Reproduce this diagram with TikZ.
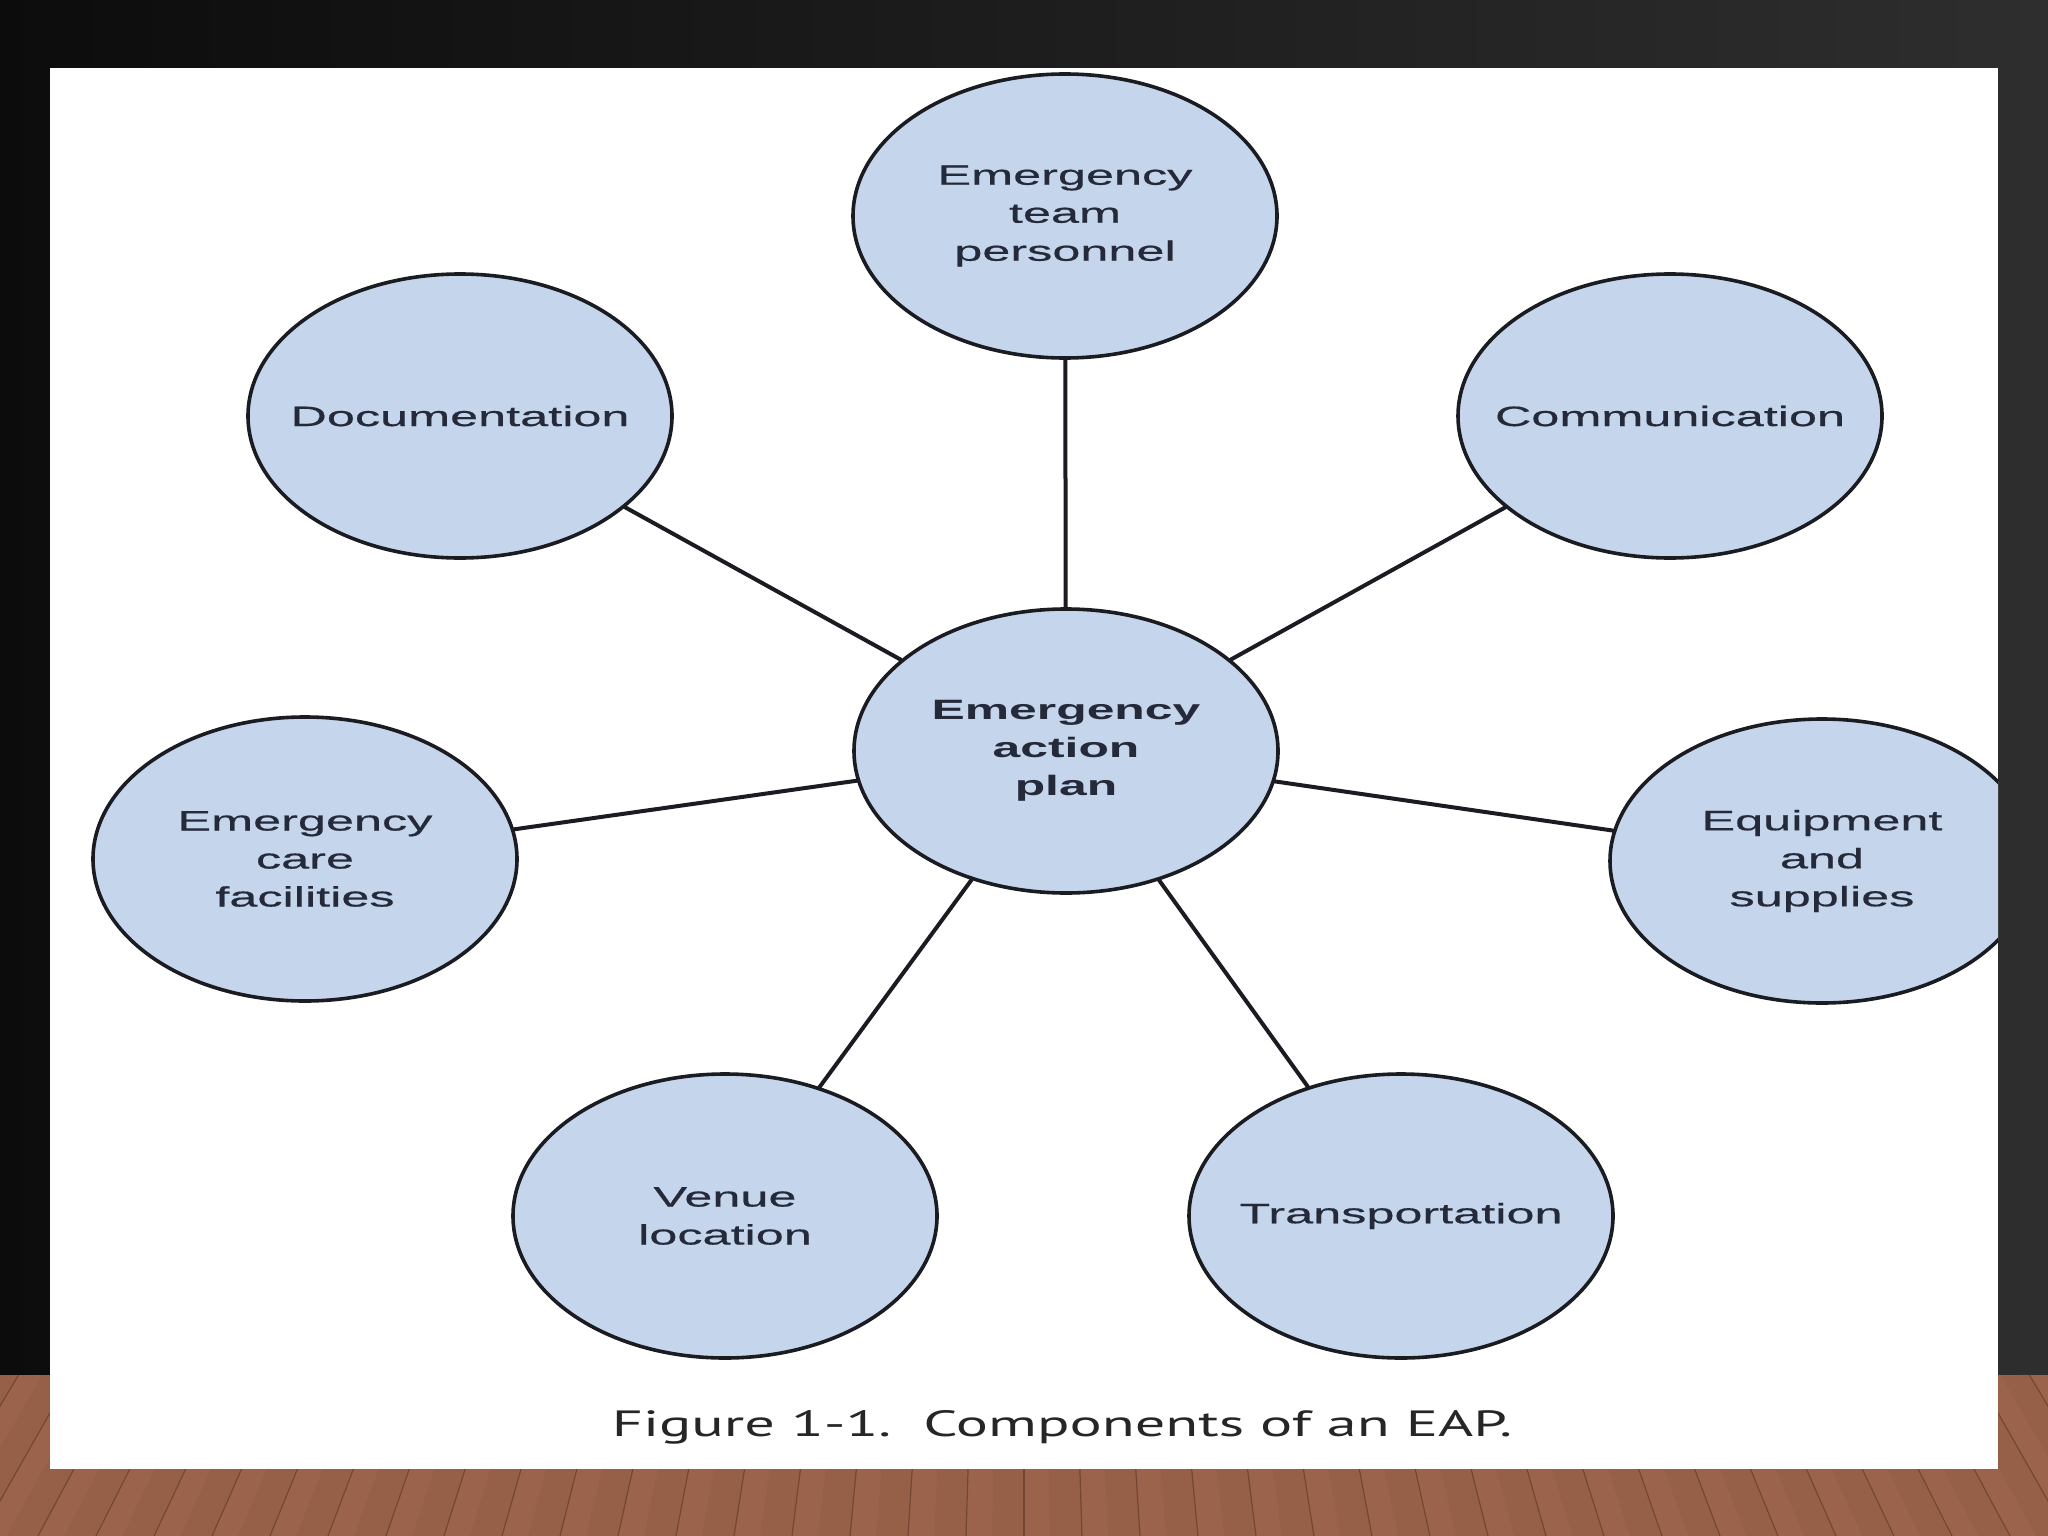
\documentclass[tikz,border=0pt]{standalone}
\usepackage{fontspec}
\usepackage{graphicx}
\usetikzlibrary{shapes.geometric}
\newfontfamily\circfont{Liberation Sans}[FakeStretch=1.8,FakeBold=0.5]
\newfontfamily\hubfont{Liberation Sans Bold}[FakeStretch=1.78]
\newfontfamily\capfont{PT Sans}

\begin{document}
\begin{tikzpicture}
		[x=1pt,y=-1pt,line cap=round,
		%Styles
		blob/.style={ellipse,draw=edgecolor,fill=bubblecolor,line width=3.6pt,
			minimum width=424pt,minimum height=284pt,inner sep=0pt},
		words/.style={font=\circfont\fontsize{28}{38}\selectfont,text=wordcolor,align=center},
		hubwords/.style={font=\hubfont\fontsize{28}{38}\selectfont,text=wordcolor,align=center},
		bubble/.style={blob,label={[words]center:#1}},
		hub/.style={blob,label={[hubwords]center:#1}},
		link/.style={draw=edgecolor,line width=4pt},
		plank/.style={draw=plankline,line width=1.2pt,opacity=.7}
		]
		
		%Colors
		\definecolor{bubblecolor}{RGB}{197,213,236}
		\definecolor{edgecolor}{RGB}{26,28,34}
		\definecolor{wordcolor}{RGB}{36,42,58}
		\definecolor{captioncolor}{RGB}{38,38,38}
		\definecolor{wood}{RGB}{150,95,72}
		\definecolor{woodlight}{RGB}{164,106,82}
		\definecolor{plankline}{RGB}{100,60,42}
		\definecolor{backleft}{RGB}{12,12,12}
		\definecolor{backright}{RGB}{46,46,46}
		
		%The graphic
		\useasboundingbox (0,0) rectangle (2048,1536);
		\shade[left color=backleft,right color=backright] (0,0) rectangle (2048,1375);
		
		\begin{scope}
			\clip (0,1375) rectangle (2048,1536);
			\fill[wood] (0,1375) rectangle (2048,1536);
			\foreach \k in {-20,...,20}
				\fill[woodlight,opacity=.45] (1024,-300) -- (1024+58*\k,1536) -- (1024+58*\k+26,1536) -- cycle;
			\foreach \k in {-20,...,20}
				\draw[plank] (1024,-300) -- (1024+58*\k,1536);
		\end{scope}
		
		\fill[white] (50,68) rectangle (1998,1469);
		
		\begin{scope}
			\clip (50,68) rectangle (1998,1469);
			
			\node[bubble={Emergency\\team\\personnel}] (team) at (1065,216) {};
			\node[bubble={Documentation}] (doc) at (460,416) {};
			\node[bubble={Communication}] (comm) at (1670,416) {};
			\node[hub={Emergency\\action\\plan}] (eap) at (1066,751) {};
			\node[bubble={Emergency\\care\\facilities}] (care) at (305,859) {};
			\node[bubble={Equipment\\and\\supplies}] (equip) at (1822,861) {};
			\node[bubble={Venue\\location}] (venue) at (725,1216) {};
			\node[bubble={Transportation}] (trans) at (1401,1216) {};
			
			\foreach \spoke in {team,doc,comm,care,equip,venue,trans}
				\draw[link] (eap) -- (\spoke);
		\end{scope}
		
		\node[anchor=base,text=captioncolor] (caption) at (1062,1436)
			{\resizebox{900pt}{26pt}{\capfont Figure 1-1.\ \ Components of an EAP.}};
	\end{tikzpicture}
\end{document}
